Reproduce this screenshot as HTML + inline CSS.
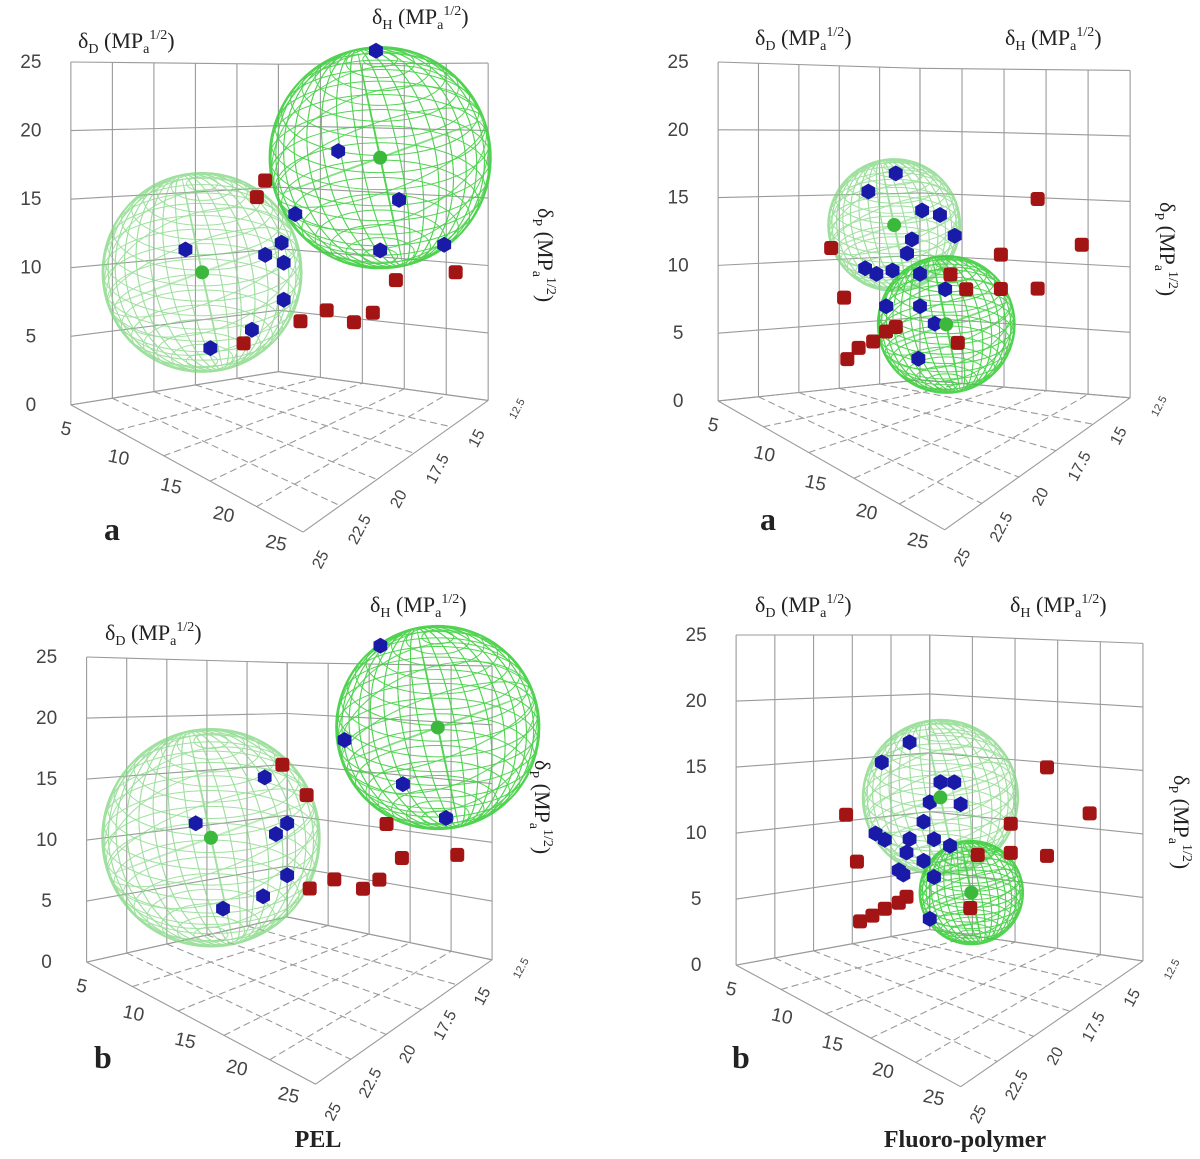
<!DOCTYPE html>
<html><head><meta charset="utf-8">
<style>
html,body{margin:0;padding:0;background:#fff;}
svg{display:block;}
.tk{font-family:"Liberation Sans",sans-serif;fill:#444;}
.tt{font-family:"Liberation Serif",serif;fill:#222;}
</style></head>
<body>
<svg id="chart" width="1200" height="1159" viewBox="0 0 1200 1159" xmlns="http://www.w3.org/2000/svg">
<rect width="1200" height="1159" fill="#fff"/>
</svg>
<script>
// ---- data: [deltaD, deltaH, deltaP] ----
const dTicks=[5,10,15,20,25];
const hTicks=[25,22.5,20,17.5,15,12.5];
const pTicks=[0,5,10,15,20,25];

const p1Blue=[[14.3,12.5,26],[10.7,12.5,18.1],[16.5,12.5,14.5],[6.6,12.5,12.9],[14.7,12.5,10.5],[20.8,12.5,11.3],[5,18.1,10.6],[5.3,12.5,10.5],[5,13.3,9.6],[5.5,12.5,8.9],[5.5,12.5,5.9],[5,14.1,3.7],[5,16.6,2.7]];
const p1Red=[[5,13.3,15.6],[5,13.8,14.3],[7.1,12.5,4.3],[9.6,12.5,5.4],[12.2,12.5,4.7],[14,12.5,5.6],[16.2,12.5,8.3],[21.9,12.5,9.3],[5,14.6,2.7]];
const p1Spheres=[[5,17.1,8.7],[14.7,12.5,17.7]];
const p1Radii=[8.1,9.0];

const p2Blue=[[5,14.0,16.6],[5,15.7,15.2],[6.9,12.5,13.3],[5.2,12.5,13.6],[8.3,12.5,11.7],[5,15.9,9.2],[5,14.2,8.9],[5,13.3,10.2],[5,12.5,8.5],[7.4,12.5,7.4],[5,14.6,6.1],[5,12.5,5.9],[6.4,12.5,4.6],[5,12.6,1.7],[5,13.0,11.3],[5,15.2,8.7]];
const p2Red=[[5,18.0,10.9],[5,17.2,7.0],[16.2,12.5,14.9],[20.4,12.5,11.5],[12.7,12.5,10.4],[12.7,12.5,7.7],[16.2,12.5,7.9],[8.6,12.5,3.2],[9.4,12.5,7.5],[7.9,12.5,8.6],[5,17.0,2.2],[5,16.3,3.0],[5,15.4,3.4],[5,14.6,4.1],[5,14.0,4.4]];
const p2Spheres=[[5,14.1,12.5],[7.5,12.5,4.6]];
const p2Radii=[5.3,5.5];

const p3Blue=[[14.1,12.5,26.7],[10.6,12.5,17.8],[5,13.9,13.9],[5,18.2,10.3],[5,12.5,9.2],[5,13.2,8.3],[16.3,12.5,14.2],[20.5,12.5,11.6],[5,12.5,4.1],[5,14.0,2.5],[5,16.5,2.1]];
const p3Red=[[5,12.8,15.0],[6.9,12.5,12.2],[7.2,12.5,3.2],[9.6,12.5,4.5],[12.4,12.5,4.1],[14.0,12.5,5.2],[16.2,12.5,7.5],[14.7,12.5,10.4],[21.6,12.5,8.5]];
const p3Spheres=[[5,17.25,8.8],[19.7,12.5,19.5]];
const p3Radii=[10.7,10.0];

const p4Blue=[[5,13.8,16.0],[5,15.6,14.5],[6.0,12.5,12.6],[7.3,12.5,12.7],[7.9,12.5,10.9],[5,12.5,10.8],[5,12.9,9.2],[5,16.0,8.7],[5,15.4,8.1],[5,13.8,7.9],[5.4,12.5,7.7],[6.9,12.5,7.3],[5,14.0,6.8],[5,12.9,5.9],[5,14.5,5.4],[5.4,12.5,4.5],[5,14.2,5.0],[5,12.5,0.9]];
const p4Red=[[5,17.9,10.5],[5,17.2,6.6],[16.0,12.5,14.6],[20.0,12.5,11.2],[12.6,12.5,9.7],[12.6,12.5,7.3],[16.0,12.5,7.4],[8.8,12.5,2.3],[9.5,12.5,6.8],[5,17.0,1.7],[5,16.2,2.0],[5,15.4,2.4],[5,14.5,2.7],[5,14.0,3.1]];
const p4Spheres=[[6.0,12.5,11.3],[8.9,12.5,3.6]];
const p4Radii=[6.6,4.4];

// ---- panel geometry (screen layout, not data) ----
const panels=[
 {id:'pel-a',A:[68,378],B:[262,348],C:[458,374],D:[285,493],hA:310,hB:278,hC:305,
  fit:[27,68,27,62,1.07,1.106],
  blue:p1Blue,red:p1Red,sph:p1Spheres,rad:p1Radii,letter:'a',lp:[104,540],
  tD:[78,48],tH:[372,24],tP:[538,268]},
 {id:'fluoro-a',A:[717,393],B:[913,373],C:[1117,390],D:[937,515],hA:321,hB:295,hC:310,
  fit:[680,72,680,62,1.03,1.056],
  blue:p2Blue,red:p2Red,sph:p2Spheres,rad:p2Radii,letter:'a',lp:[760,530],
  tD:[755,45],tH:[1005,45],tP:[1160,262]},
 {id:'pel-b',A:[83,930],B:[267,890],C:[455,928],D:[293,1038],hA:270,hB:225,hC:260,
  fit:[43,660,43,657,1.09,1.13],
  blue:p3Blue,red:p3Red,sph:p3Spheres,rad:p3Radii,letter:'b',lp:[94,1068],
  tD:[105,640],tH:[370,612],tP:[535,820]},
 {id:'fluoro-b',A:[735,957],B:[923,923],C:[1130,953],D:[953,1073],hA:315,hB:281,hC:303,
  fit:[698,642,698,635,1.03,1.048],
  blue:p4Blue,red:p4Red,sph:p4Spheres,rad:p4Radii,letter:'b',lp:[732,1068],
  tD:[755,612],tH:[1010,612],tP:[1174,835]}
];
panels.forEach(P=>{
  const [ox,oy,nx,ny,kx,ky]=P.fit;
  ['A','B','C','D'].forEach(k=>{P[k]=[nx+(P[k][0]-ox)*kx, ny+(P[k][1]-oy)*ky];});
  P.hA*=ky;P.hB*=ky;P.hC*=ky;
});

const NS='http://www.w3.org/2000/svg';
const svg=document.getElementById('chart');
function mk(tag,attrs,parent){const e=document.createElementNS(NS,tag);for(const k in attrs)e.setAttribute(k,attrs[k]);(parent||svg).appendChild(e);return e;}

function proj(P,u,v,w){
  const hD=P.hA+P.hC-P.hB;
  const a=(1-u)*(1-v),b=(1-u)*v,c=u*v,d=u*(1-v);
  const x=P.A[0]*a+P.B[0]*b+P.C[0]*c+P.D[0]*d;
  const y=P.A[1]*a+P.B[1]*b+P.C[1]*c+P.D[1]*d;
  const h=P.hA*a+P.hB*b+P.hC*c+hD*d;
  return [x,y-w*h];
}
function dScale(dd){return (dd-5)/20;}
function hScale(hh){return (25-hh)/12.5;}
function pScale(pp){return pp/25;}
function toXY(P,pt){return proj(P,dScale(pt[0]),hScale(pt[1]),pScale(pt[2]));}

function line(g,p,q,dash){const l=mk('line',{x1:p[0],y1:p[1],x2:q[0],y2:q[1],stroke:'#9a9a9a','stroke-width':1.1},g);if(dash)l.setAttribute('stroke-dasharray','7,4');return l;}

function sphere(g,cx,cy,r,col,op){
  const s=mk('g',{stroke:col,'stroke-width':1,fill:'none',opacity:op},g);
  
  
  mk('circle',{cx:cx,cy:cy,r:r,'stroke-width':1.8},s);
  const tilt=0.45;
  for(let k=-9;k<=9;k++){
    const ph=k*Math.PI/20;
    const rx=r*Math.cos(ph);
    mk('ellipse',{cx:cx,cy:cy-r*Math.sin(ph)*Math.cos(tilt),rx:rx,ry:Math.max(0.5,rx*Math.sin(tilt))},s);
  }
  for(let m=1;m<18;m++){
    const a=m*Math.PI/18;
    mk('ellipse',{cx:cx,cy:cy,rx:Math.max(0.5,Math.abs(r*Math.cos(a))),ry:r,transform:'rotate(-12 '+cx+' '+cy+')'},s);
  }
  for(let m=1;m<10;m++){
    const a=m*Math.PI/10;
    mk('ellipse',{cx:cx,cy:cy,rx:Math.max(0.5,Math.abs(r*Math.cos(a))),ry:r,transform:'rotate(70 '+cx+' '+cy+')','stroke-opacity':0.7},s);
  }
}

function axisTitle(g,pos,sub,rot){
  const t=mk('text',{x:pos[0],y:pos[1],'font-size':22,class:'tt'},g);
  if(rot)t.setAttribute('transform','rotate(90 '+pos[0]+' '+pos[1]+')');
  t.innerHTML='δ<tspan dy="5" font-size="14">'+sub+'</tspan><tspan dy="-5"> (MP</tspan><tspan dy="5" font-size="14">a</tspan><tspan dy="-14" font-size="14">1/2</tspan><tspan dy="9">)</tspan>';
  return t;
}

panels.forEach(P=>{
  const g=mk('g',{});
  
  
  const grid=mk('g',{},g);
  
  
  for(let i=0;i<=5;i++){
    const t=i/5;
    line(grid,proj(P,0,t,0),proj(P,0,t,1));
    line(grid,proj(P,0,0,t),proj(P,0,1,t));
    line(grid,proj(P,t,1,0),proj(P,t,1,1));
    line(grid,proj(P,0,1,t),proj(P,1,1,t));
    line(grid,proj(P,t,0,0),proj(P,t,1,0),i>0&&i<5);
    line(grid,proj(P,0,t,0),proj(P,1,t,0),i>0&&i<5);
  }
  pTicks.forEach(v=>{
    const p=proj(P,0,0,pScale(v));
    const t=mk('text',{x:p[0]-40,y:p[1]+6,'font-size':19,class:'tk','text-anchor':'middle'},g);
    
    
    t.textContent=v;
  });
  dTicks.forEach(v=>{
    const u=dScale(v);
    const p=proj(P,u,0,0);
    const x=p[0]-6-22*u,y=p[1]+30-13*u;
    const t=mk('text',{x:x,y:y,'font-size':19,class:'tk','text-anchor':'middle'},g);
    t.setAttribute('transform','rotate(12 '+x+' '+y+')');
    
    
    t.textContent=v;
  });
  hTicks.forEach(v=>{
    const vv=hScale(v);
    const p=proj(P,1,vv,0);
    const x=p[0]+22+10*vv,y=p[1]+30-20*vv;
    const t=mk('text',{x:x,y:y,'font-size':v===12.5?11:16,class:'tk','text-anchor':'middle'},g);
    t.setAttribute('transform','rotate(-62 '+x+' '+y+')');
    
    
    t.textContent=v;
  });
  P.sph.forEach((s,i)=>{
    const c=toXY(P,s);
    const r=P.rad[i]*P.hB/25;
    sphere(g,c[0],c[1],r,i===0?'#7fd67f':'#3fcf3f',i===0?0.75:0.9);
  });
  P.red.forEach(pt=>{
    const c=toXY(P,pt);
    const r=mk('rect',{x:c[0]-7,y:c[1]-7,width:14,height:14,rx:3,fill:'#a31414'},g);
    
    
  });
  P.blue.forEach(pt=>{
    const c=toXY(P,pt);
    let d='';
    for(let k=0;k<6;k++){const a=Math.PI/6+k*Math.PI/3;d+=(k?'L':'M')+(c[0]+8*Math.cos(a)).toFixed(1)+','+(c[1]+8*Math.sin(a)).toFixed(1);}
    const h=mk('path',{d:d+'Z',fill:'#1a1aa8'},g);
    
    
  });
  P.sph.forEach(s=>{
    const c=toXY(P,s);
    const e=mk('circle',{cx:c[0],cy:c[1],r:7,fill:'#3cb83c'},g);
    
    
  });
  const a1=axisTitle(g,P.tD,'D',false);
  
  
  const a2=axisTitle(g,P.tH,'H',false);
  
  
  const a3=axisTitle(g,[P.tP[0],P.tP[1]-60],'P',true);
  
  
  const L=mk('text',{x:P.lp[0],y:P.lp[1],'font-size':32,'font-weight':'bold',class:'tt'},g);
  
  
  L.textContent=P.letter;
});
const c1=mk('text',{x:318,y:1147,'font-size':24,'font-weight':'bold',class:'tt','text-anchor':'middle'});


c1.textContent='PEL';
const c2=mk('text',{x:965,y:1147,'font-size':24,'font-weight':'bold',class:'tt','text-anchor':'middle'});


c2.textContent='Fluoro-polymer';
</script>
</body></html>
